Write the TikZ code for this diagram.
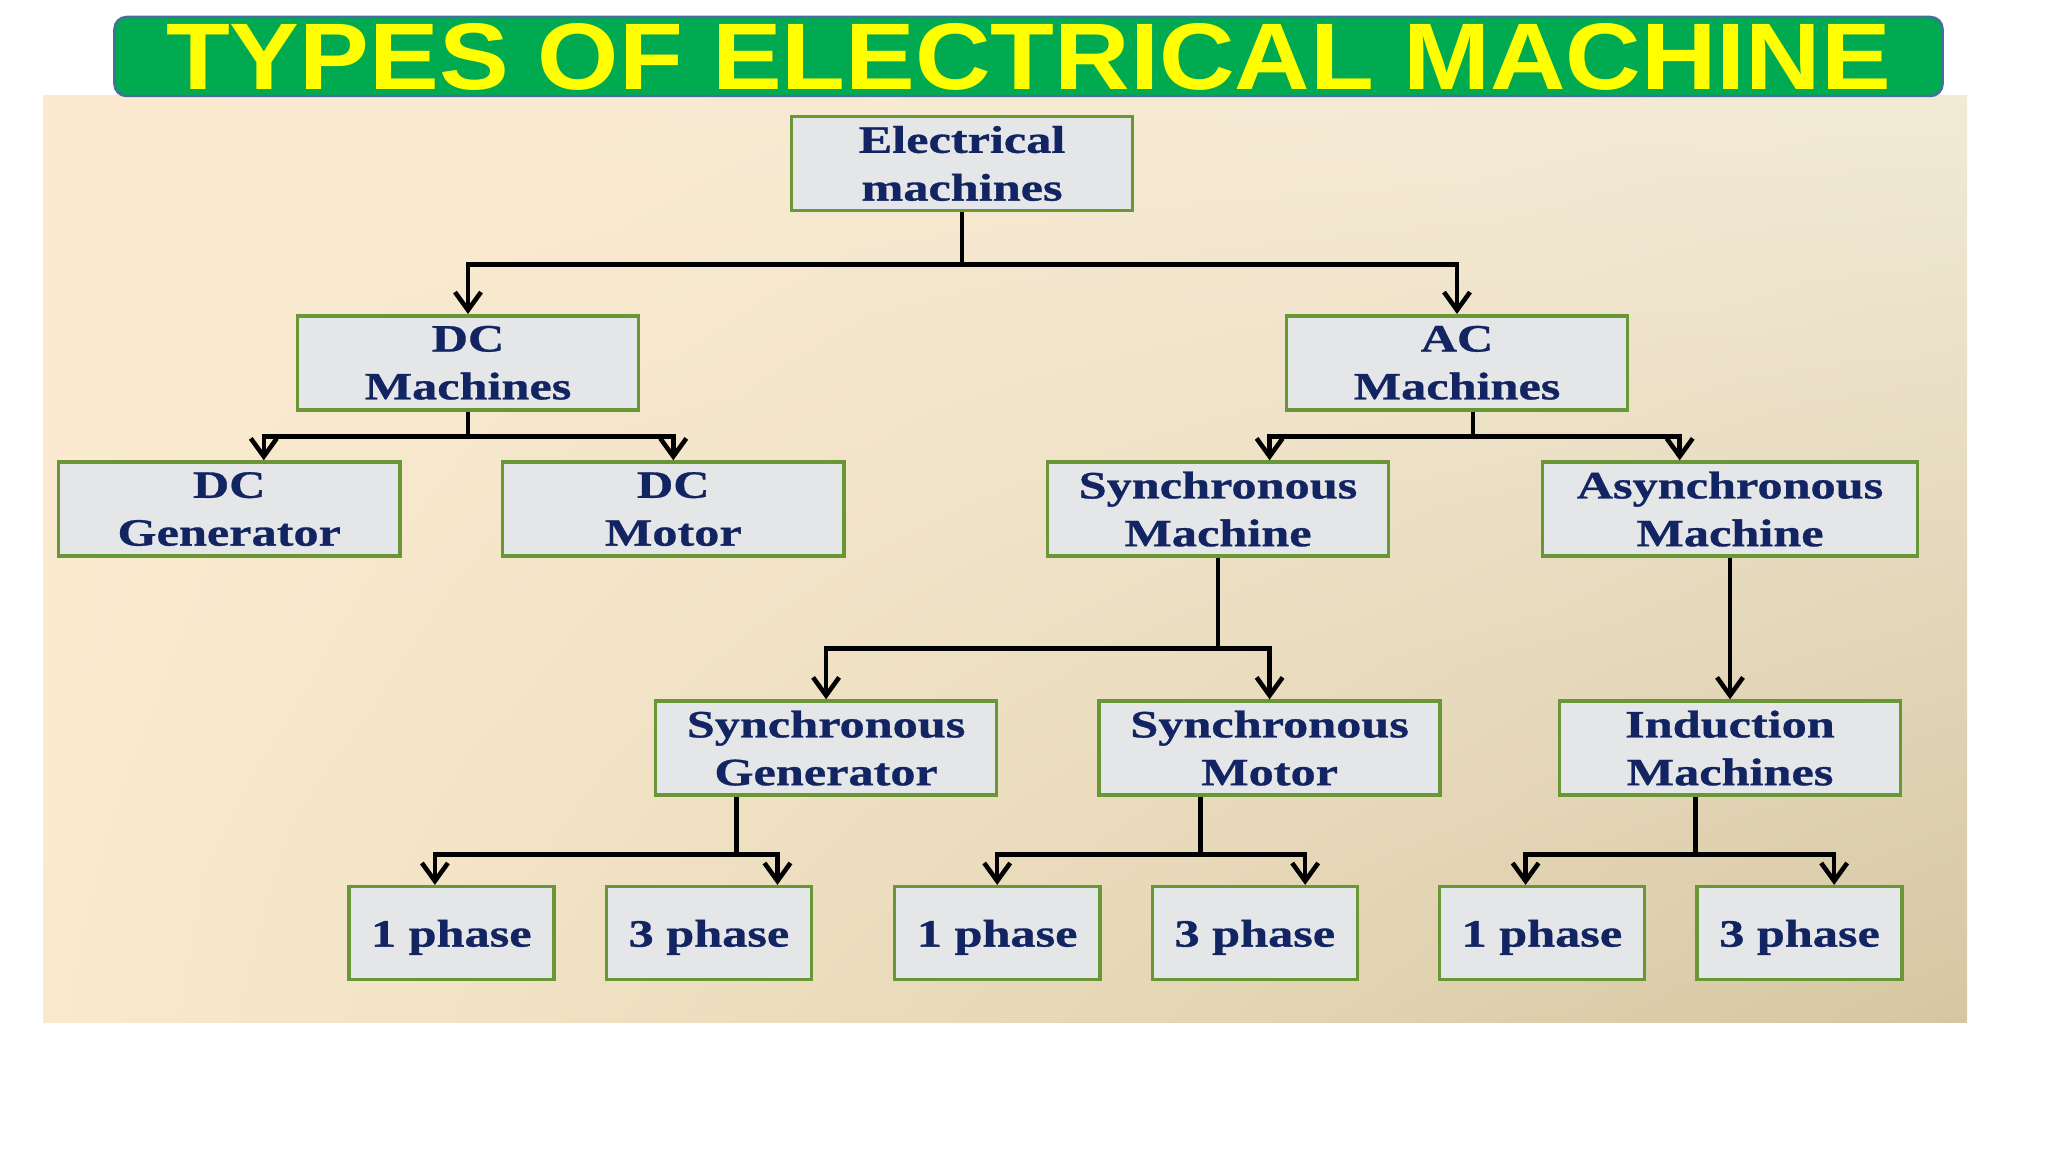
\documentclass[tikz,border=0pt]{standalone}
\usepackage{fontspec}
\usepackage{tikz}
\usetikzlibrary{positioning, arrows.meta, calc, shadings}
\newfontfamily\boxfont[FakeStretch=1.3, BoldFeatures={FakeBold=0.8}]{Liberation Serif}
\newfontfamily\titlefont[FakeStretch=1.105]{Liberation Sans}
\definecolor{navy}{RGB}{18,36,98}
\definecolor{boxline}{RGB}{105,150,55}
\definecolor{boxfill}{RGB}{228,230,231}
\definecolor{titlegreen}{RGB}{0,170,80}
\definecolor{titleedge}{RGB}{70,110,160}
\definecolor{titleyellow}{RGB}{255,255,0}
\definecolor{bgtl}{RGB}{252,234,208}
\definecolor{bgtr}{RGB}{242,234,214}
\definecolor{bgbl}{RGB}{249,234,205}
\definecolor{bgbr}{RGB}{214,199,162}

\begin{document}
\begin{tikzpicture}[
  x=0.01cm, y=-0.01cm,
  box/.style={rectangle, draw=boxline, line width=1pt, fill=boxfill, minimum width=3.41cm, minimum height=0.94cm, inner sep=0pt, align=center, text=navy, font=\boxfont\bfseries\fontsize{11}{13.6}\selectfont},
  phase/.style={box, minimum width=2.05cm, minimum height=0.93cm, text depth=0pt},
  link/.style={draw, line width=1.3pt},
  arrow/.style={link, -{Straight Barb[length=1.8mm, width=2.6mm]}},
]
  \useasboundingbox (0,0) rectangle (2048,1152);
  \shade[upper left=bgtl, upper right=bgtr, lower left=bgbl, lower right=bgbr] (43,95.5) rectangle (1967,1022);
  \node[draw=titleedge, line width=0.7pt, fill=titlegreen, rounded corners=0.12cm, minimum width=18.27cm, minimum height=0.79cm, inner sep=0pt, text=titleyellow, text depth=0pt, font=\titlefont\bfseries\fontsize{26.9}{30}\selectfont] (title) at (1028.5,56.5) {TYPES OF ELECTRICAL MACHINE};

  \node[box] (em) at (962,163.5) {Electrical\\machines};
  \node[box] (dcm) at (468,362.8) {DC\\Machines};
  \node[box] (acm) at (1457,362.8) {AC\\Machines};
  \node[box] (dcg) at (229.2,509.1) {DC\\Generator};
  \node[box] (dcmo) at (673.3,509.1) {DC\\Motor};
  \node[box] (syn) at (1218,509.1) {Synchronous\\Machine};
  \node[box, minimum width=3.75cm] (asy) at (1730,509.1) {Asynchronous\\Machine};
  \node[box] (sg) at (826.1,748.1) {Synchronous\\Generator};
  \node[box] (sm) at (1269.6,748.1) {Synchronous\\Motor};
  \node[box] (im) at (1730,748.1) {Induction\\Machines};
  \node[phase] (p1) at (451.3,933.2) {1 phase};
  \node[phase, right=0.49cm of p1] (p2) {3 phase};
  \node[phase] (p3) at (997.2,933.2) {1 phase};
  \node[phase, right=0.49cm of p3] (p4) {3 phase};
  \node[phase] (p5) at (1541.9,933.2) {1 phase};
  \node[phase, right=0.49cm of p5] (p6) {3 phase};

  % first split
  \draw[arrow] (em.south) -- ++(0,52) -| (dcm.north);
  \draw[arrow] (em.south) -- ++(0,52) -| (acm.north);
  % dc and ac
  \draw[arrow] (dcm.south) -- ++(0,25) -| ($(dcg.north)+(34.6,0)$);
  \draw[arrow] (dcm.south) -- ++(0,25) -| (dcmo.north);
  \draw[arrow] ($(acm.south)+(16,0)$) -- ++(0,25) -| ($(syn.north)+(51.6,0)$);
  \draw[arrow] ($(acm.south)+(16,0)$) -- ++(0,25) -| ($(asy.north)+(-50.3,0)$);
  % synchronous / asynchronous
  \draw[arrow] (syn.south) -- ++(0,90.4) -| (sg.north);
  \draw[arrow] (syn.south) -- ++(0,90.4) -| (sm.north);
  \draw[arrow] (asy.south) -- (im.north);
  % phases
  \draw[arrow] ($(sg.south)+(-89.4,0)$) -- ++(0,57.8) -| ($(p1.north)+(-16.4,0)$);
  \draw[arrow] ($(sg.south)+(-89.4,0)$) -- ++(0,57.8) -| ($(p2.north)+(68.5,0)$);
  \draw[arrow] ($(sm.south)+(-69.3,0)$) -- ++(0,57.8) -| (p3.north);
  \draw[arrow] ($(sm.south)+(-69.3,0)$) -- ++(0,57.8) -| ($(p4.north)+(50.3,0)$);
  \draw[arrow] ($(im.south)+(-34.7,0)$) -- ++(0,57.8) -| ($(p5.north)+(-16.3,0)$);
  \draw[arrow] ($(im.south)+(-34.7,0)$) -- ++(0,57.8) -| ($(p6.north)+(34.6,0)$);
\end{tikzpicture}
\end{document}
